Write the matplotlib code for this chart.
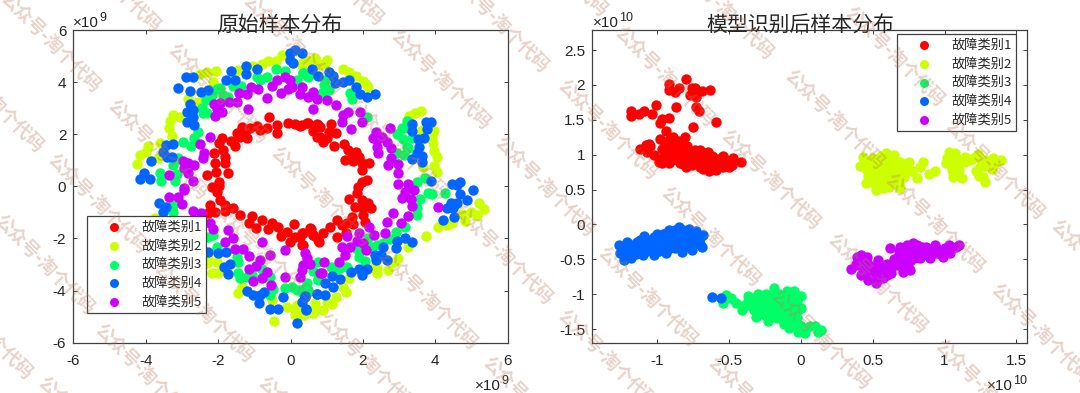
"""Recreate the fault-class scatter comparison (before and after model)."""

import numpy as np
import matplotlib

matplotlib.use("Agg")
import matplotlib.pyplot as plt

WIDTH, HEIGHT = 1080, 393
CJK = ["Noto Sans CJK SC", "DejaVu Sans"]
TEXT_COLOR = "#262626"
LINE_COLOR = "#404040"

CLASS_LABELS = ["故障类别1", "故障类别2", "故障类别3", "故障类别4", "故障类别5"]
CLASS_COLORS = ["#FF0000", "#CCFF00", "#00FF66", "#0066FF", "#CC00FF"]

ORIG_CLASS1 = [
    (-0.59, 2.66), (-1.35, 2.29), (-0.93, 2.31), (-1.12, 2.23), (-1.26, 2.10), (-1.49, 2.03),
    (-0.84, 2.16), (-0.66, 2.23), (-0.38, 2.35), (-0.06, 2.44), (0.12, 2.39), (0.26, 2.31),
    (0.46, 2.44), (-0.38, 2.03), (-1.63, 1.75), (-1.53, 1.56), (-1.40, 1.91), (-1.21, 1.84),
    (-1.90, 1.84), (-1.97, 1.65), (-2.11, 1.27), (-1.86, 1.39), (-1.81, 1.14), (-2.09, 0.88),
    (-1.81, 0.88), (-2.06, 0.56), (-1.74, 0.52), (-2.30, 0.43), (-1.97, 0.15), (-2.18, -0.01),
    (-1.97, 0.00), (0.72, 2.39), (0.72, 1.88), (0.81, 2.29), (0.31, 2.35), (0.47, 2.44),
    (0.77, 2.35), (1.11, 2.39), (0.63, 2.14), (0.81, 1.91), (1.07, 2.10), (1.26, 2.06),
    (1.00, 1.84), (0.89, 1.71), (1.20, 1.55), (1.48, 1.62), (1.60, 1.39), (1.81, 1.33),
    (1.69, 1.16), (1.51, 1.01), (1.74, 0.98), (1.90, 1.14), (1.97, 0.88), (2.17, 0.88),
    (1.97, 0.63), (2.10, 0.24), (1.97, 0.18), (1.87, -0.01), (1.83, -0.27), (1.62, -0.49),
    (1.97, -0.52), (2.15, -0.65), (1.78, -0.78), (2.01, -0.84), (2.21, -0.84), (1.69, -1.16),
    (2.01, -1.10), (2.06, -1.36), (1.55, -1.42), (1.74, -1.46), (1.29, -1.29), (1.41, -1.48),
    (1.09, -1.57), (0.91, -1.80), (1.29, -1.93), (1.53, -1.80), (0.56, -1.65), (0.63, -1.87),
    (0.35, -1.80), (0.80, -2.12), (0.31, -2.25), (0.26, -1.93), (-2.04, -0.20), (-1.95, -0.52),
    (-2.21, -0.72), (-1.81, -0.72), (-2.08, -0.97), (-2.27, -1.04), (-1.81, -0.93), (-1.58, -0.84),
    (-1.39, -1.10), (-1.07, -1.14), (-1.16, -1.42), (-0.94, -1.61), (-0.80, -1.29), (-0.52, -1.39),
    (-0.61, -1.65), (-0.34, -1.55), (-0.25, -1.91), (-0.11, -1.74), (0.11, -1.46), (-0.01, -2.12),
    (0.12, -1.93), (0.33, -1.80), (0.35, -2.25), (0.54, -1.61), (0.61, -1.87), (0.77, -2.06),
]
ORIG_CLASS2 = [
    (-4.25, 0.86), (-4.16, 1.20), (-3.93, 1.55), (-3.99, 1.33), (-3.60, 1.68), (-3.65, 1.07),
    (-3.28, 1.93), (-3.37, 2.25), (-3.24, 2.74), (-3.05, 2.67), (-3.33, 2.52), (-2.82, 3.34),
    (-2.55, 3.25), (-2.50, 4.31), (-2.32, 4.40), (-2.06, 4.42), (-2.13, 4.02), (-1.44, 4.46),
    (-1.03, 4.62), (-0.80, 4.69), (-0.61, 4.81), (-0.40, 4.82), (-0.24, 5.04), (0.35, 4.78),
    (0.49, 4.85), (0.68, 4.91), (0.31, 4.65), (0.68, 4.87), (0.95, 4.72), (1.02, 4.85),
    (0.81, 4.65), (1.46, 4.49), (1.62, 4.40), (1.80, 4.25), (2.01, 4.04), (2.15, 3.80),
    (2.08, 3.93), (3.26, 2.71), (3.44, 2.80), (3.60, 2.90), (3.97, 2.14), (3.90, 1.84),
    (3.93, 1.65), (3.97, 1.37), (4.04, 1.11), (3.96, 0.78), (4.06, 0.54), (3.62, 2.16),
    (3.67, 0.75), (5.21, -0.65), (5.35, -0.88), (5.14, -1.10), (4.98, -0.97), (4.75, -1.06),
    (4.82, -1.32), (4.45, -1.42), (4.31, -1.48), (4.08, -1.57), (3.73, -1.89), (3.25, -2.34),
    (2.98, -2.76), (2.87, -2.92), (2.70, -3.21), (2.38, -3.15), (2.30, -3.15), (2.38, -3.34),
    (1.62, -3.53), (1.46, -3.87), (1.52, -4.07), (1.27, -4.23), (1.14, -4.51), (1.00, -4.42),
    (0.89, -4.74), (0.68, -4.49), (0.61, -4.87), (0.35, -4.94), (0.68, -4.68), (-2.27, -2.76),
    (-2.31, -2.95), (-2.04, -2.89), (-2.18, -3.34), (-2.01, -3.34), (-1.35, -3.85), (-1.46, -4.11),
    (-0.52, -4.36), (-0.46, -5.17), (-0.11, -4.62), (0.12, -4.94), (0.19, -4.55), (0.36, -4.94),
    (0.61, -4.87), (0.12, -4.74), (-3.74, -1.23),
]
ORIG_CLASS3 = [
    (-3.60, 0.52), (-3.58, 0.22), (-3.19, 0.22), (-3.14, 0.47), (-3.24, 0.82), (-3.10, 1.07),
    (-2.98, 1.71), (-2.76, 1.55), (-2.67, 1.84), (-2.55, 2.07), (-2.45, 2.99), (-2.32, 2.80),
    (-2.43, 2.83), (-2.34, 3.31), (-2.18, 3.50), (-2.04, 3.72), (-1.86, 3.50), (-1.72, 3.44),
    (-1.95, 3.76), (-1.58, 3.85), (-1.38, 3.85), (-0.93, 4.21), (-0.84, 4.08), (-0.66, 4.18),
    (-0.41, 4.49), (-0.15, 4.44), (0.19, 4.10), (0.35, 4.34), (0.49, 4.18), (0.58, 4.31),
    (0.34, 4.34), (0.95, 4.08), (0.93, 3.89), (1.05, 3.70), (0.86, 3.57), (1.64, 3.59),
    (1.71, 3.34), (2.10, 2.67), (3.21, 2.52), (3.07, 2.23), (2.93, 2.01), (3.25, 2.23),
    (3.12, 1.80), (3.35, 1.84), (3.21, 1.52), (3.25, 1.46), (3.14, 1.20), (2.93, 1.29),
    (3.49, 0.18), (3.72, 0.31), (3.81, -0.27), (3.90, -0.29), (3.58, -0.50), (3.50, -0.84),
    (3.49, -1.10), (4.27, -0.27), (3.16, -1.57), (2.91, -1.77), (2.75, -2.03), (2.56, -2.16),
    (2.38, -2.25), (2.21, -2.31), (2.13, -1.99), (1.83, -2.42), (1.90, -2.70), (2.06, -2.85),
    (1.55, -3.11), (1.37, -3.15), (1.11, -3.08), (1.23, -3.21), (0.77, -2.89), (0.63, -3.24),
    (0.77, -3.57), (0.49, -4.04), (0.40, -3.92), (0.26, -3.98), (-3.24, -0.72), (-3.25, -0.97),
    (-2.13, -1.87), (-2.27, -1.93), (-2.04, -2.32), (-1.49, -2.70), (-1.44, -2.89), (-1.44, -3.34),
    (-1.39, -3.53), (-1.21, -3.49), (-1.07, -3.40), (-0.80, -3.18), (-0.58, -3.49), (-0.57, -4.17),
    (-0.47, -3.95), (-0.15, -3.91), (0.03, -3.85), (0.17, -3.98), (0.31, -4.04), (0.45, -3.72),
    (0.49, -3.98), (0.77, -3.59),
]
ORIG_CLASS4 = [
    (-4.16, 0.28), (-4.04, 0.50), (-3.88, 0.28), (-3.86, 0.98), (-3.51, 1.33), (-3.44, 1.59),
    (-3.24, 1.61), (-3.42, 1.14), (-3.28, 1.11), (-3.10, 3.76), (-2.90, 4.18), (-2.68, 4.18),
    (-2.79, 3.67), (-2.47, 3.63), (-2.27, 3.70), (-2.78, 3.16), (-2.87, 2.86), (-2.68, 2.93),
    (-2.87, 2.48), (-2.68, 2.65), (-2.67, 2.35), (-1.78, 4.10), (-1.53, 4.10), (-1.65, 4.44),
    (-1.24, 4.62), (-1.24, 4.31), (-0.93, 4.49), (-0.01, 4.85), (0.12, 5.23), (0.33, 5.10),
    (-0.01, 5.10), (0.08, 4.72), (0.60, 4.50), (0.77, 4.23), (1.05, 4.40), (1.23, 3.98),
    (1.18, 4.23), (1.46, 4.02), (1.62, 4.08), (1.80, 3.82), (1.92, 3.53), (2.10, 3.44),
    (2.33, 3.53), (3.37, 2.39), (3.37, 2.14), (3.74, 2.46), (3.87, 2.46), (3.76, 2.19),
    (3.69, 1.87), (3.53, 1.80), (3.56, 1.52), (3.49, 1.27), (3.62, 1.16), (3.35, 1.05),
    (3.62, 0.95), (3.87, 0.22), (4.47, 0.09), (4.68, 0.17), (5.03, -0.14), (4.61, 0.05),
    (4.87, -0.52), (4.68, -0.29), (4.59, -0.65), (4.42, -0.65), (4.31, -0.84), (4.50, -0.84),
    (4.52, -1.16), (4.22, -1.29), (3.37, -2.15), (3.16, -1.97), (2.93, -2.08), (2.91, -2.38),
    (2.56, -2.34), (2.33, -2.63), (2.36, -2.83), (2.50, -2.63), (2.66, -2.83), (2.10, -3.18),
    (1.90, -3.18), (1.97, -3.40), (1.66, -3.30), (1.37, -3.57), (1.16, -3.43), (1.18, -3.85),
    (0.95, -3.70), (0.95, -4.17), (0.72, -4.13), (0.40, -4.23), (0.43, -4.74), (-3.63, -0.65),
    (-3.44, -0.78), (-3.51, -0.97), (-2.27, -2.51), (-1.99, -2.57), (-1.79, -2.51), (-1.85, -3.08),
    (-1.67, -2.98), (-1.74, -3.36), (-1.21, -4.02), (-1.03, -4.17), (-0.84, -4.17), (-0.72, -4.04),
    (-0.86, -4.47), (-0.57, -4.71), (-0.35, -4.72), (-0.22, -4.26), (0.31, -4.42), (0.40, -4.21),
    (0.43, -4.72), (0.19, -5.26), (0.72, -4.13),
]
ORIG_CLASS5 = [
    (-3.37, 0.43), (-2.96, 0.98), (-2.82, 0.91), (-2.66, 0.82), (-2.94, 0.69), (-2.82, 0.50),
    (-2.70, 0.20), (-2.94, -0.08), (-2.50, 1.62), (-2.22, 1.88), (-2.38, 1.27), (-2.41, 1.07),
    (-2.11, 3.16), (-1.95, 3.21), (-2.04, 2.95), (-1.90, 2.86), (-2.09, 2.70), (-1.70, 3.22),
    (-1.49, 3.25), (-1.18, 2.97), (-1.42, 3.57), (-1.21, 3.54), (-1.09, 3.82), (-0.89, 3.72),
    (-0.64, 3.40), (-0.52, 3.86), (-0.38, 4.08), (-0.15, 4.21), (-0.01, 4.08), (-0.25, 3.59),
    (-0.08, 3.72), (0.05, 3.80), (0.31, 3.80), (0.26, 3.53), (0.49, 3.44), (0.63, 3.63),
    (0.72, 3.34), (0.61, 2.97), (1.00, 3.31), (1.26, 3.12), (1.60, 2.86), (1.44, 2.74),
    (1.41, 2.46), (1.92, 2.86), (1.97, 2.48), (1.67, 2.20), (2.35, 2.10), (2.75, 2.23),
    (2.27, 1.87), (2.52, 1.91), (2.67, 1.71), (2.40, 1.78), (2.38, 1.52), (2.43, 1.27),
    (2.79, 1.46), (2.77, 1.07), (2.68, 0.82), (2.98, 0.86), (2.98, 0.50), (2.98, 0.09),
    (3.24, 0.09), (3.16, -0.20), (3.41, -0.14), (3.33, -0.50), (3.37, -0.74), (3.07, -0.46),
    (3.24, -1.12), (2.82, -1.04), (3.06, -1.42), (2.67, -1.36), (2.17, -1.57), (1.90, -1.78),
    (2.31, -1.87), (2.61, -1.80), (1.57, -1.91), (1.83, -2.10), (2.00, -2.19), (2.08, -2.44),
    (1.41, -2.31), (1.64, -2.31), (1.51, -2.63), (1.35, -2.89), (0.92, -2.89), (0.86, -3.34),
    (4.08, -0.78), (-3.37, -0.40), (-3.12, -0.40), (-3.00, -0.68), (-2.94, -0.14), (-2.70, -0.93),
    (-2.48, -1.04), (-2.21, -1.42), (-2.13, -1.65), (-1.74, -1.67), (-1.81, -2.12), (-1.58, -2.00),
    (-1.53, -2.40), (-1.30, -2.42), (-1.16, -2.67), (-0.84, -2.83), (-0.94, -3.06), (-1.14, -3.18),
    (-0.80, -2.12), (-0.58, -2.63), (-0.15, -2.44), (-1.03, -3.62), (-0.80, -3.53), (-0.64, -3.27),
    (-0.55, -3.79), (-0.15, -3.49), (0.26, -3.47), (0.31, -3.21), (0.35, -3.02), (0.40, -2.57),
    (0.45, -2.76), (0.54, -2.98), (0.81, -3.34),
]

MODEL_CLASS1 = [
    (-0.80, 2.08), (-0.92, 2.01), (-0.92, 1.93), (-0.88, 1.90), (-0.85, 1.96), (-0.76, 1.95),
    (-0.74, 1.95), (-0.77, 1.86), (-0.73, 1.83), (-0.69, 1.92), (-0.63, 1.93), (-0.73, 1.69),
    (-0.71, 1.62), (-0.87, 1.68), (-1.01, 1.71), (-1.18, 1.62), (-1.18, 1.55), (-1.13, 1.59),
    (-1.09, 1.63), (-1.04, 1.58), (-0.97, 1.51), (-0.92, 1.52), (-0.98, 1.45), (-0.59, 1.47),
    (-0.75, 1.40), (-0.94, 1.34), (-0.81, 1.25), (-0.98, 1.23), (-0.92, 1.21), (-0.89, 1.26),
    (-1.12, 1.08), (-1.08, 1.14), (-1.06, 1.16), (-1.05, 1.12), (-1.07, 1.04), (-0.93, 1.12),
    (-0.87, 1.14), (-0.79, 1.12), (-1.02, 1.00), (-0.99, 0.89), (-0.96, 0.97), (-0.92, 0.88),
    (-0.91, 1.00), (-0.88, 1.04), (-0.83, 1.09), (-0.84, 0.88), (-0.83, 0.97), (-0.80, 0.92),
    (-0.76, 0.85), (-0.74, 1.07), (-0.73, 0.95), (-0.70, 0.83), (-0.68, 0.97), (-0.65, 1.04),
    (-0.65, 0.88), (-0.64, 0.77), (-0.61, 0.97), (-0.59, 0.78), (-0.58, 0.92), (-0.54, 0.98),
    (-0.54, 0.83), (-0.51, 0.88), (-0.47, 0.96), (-0.48, 0.85), (-0.42, 0.89), (-0.77, 1.02),
    (-0.70, 1.07), (-0.87, 0.95), (-0.80, 0.83), (-0.66, 0.97), (-0.74, 0.97), (-0.62, 0.85),
    (-0.68, 0.80), (-0.81, 1.00), (-0.90, 1.09), (-0.97, 0.88), (-0.95, 1.05), (-0.93, 0.95),
    (-0.90, 0.92), (-0.86, 1.02), (-0.85, 0.92), (-0.82, 0.86), (-0.78, 0.96), (-0.78, 0.88),
    (-0.75, 1.00), (-0.75, 0.90), (-0.72, 0.86), (-0.71, 1.00), (-0.70, 0.92), (-0.67, 0.88),
    (-0.67, 1.02), (-0.64, 0.92), (-0.62, 0.98), (-0.62, 0.80), (-0.60, 0.88), (-0.57, 0.82),
    (-0.56, 0.95), (-0.52, 0.93), (-0.50, 0.82), (-0.95, 1.15), (-0.90, 1.18), (-0.85, 1.20),
    (-0.78, 1.05), (-0.97, 1.08),
]
MODEL_CLASS2 = [
    (0.41, 0.84), (0.43, 0.97), (0.48, 0.92), (0.59, 1.02), (0.65, 1.00), (0.56, 0.88),
    (0.46, 0.78), (0.45, 0.59), (0.52, 0.49), (0.50, 0.66), (0.57, 0.68), (0.62, 0.78),
    (0.69, 0.90), (0.75, 0.90), (0.74, 0.80), (0.70, 0.73), (0.65, 0.61), (0.69, 0.52),
    (0.61, 0.54), (0.57, 0.52), (0.81, 0.66), (0.77, 0.76), (0.85, 0.89), (0.83, 0.83),
    (0.89, 0.73), (0.93, 0.77), (1.03, 1.04), (1.07, 1.02), (1.01, 0.88), (1.06, 0.88),
    (1.11, 0.90), (1.14, 0.97), (1.21, 0.97), (1.23, 1.01), (1.29, 0.92), (1.34, 0.96),
    (1.39, 0.92), (1.33, 0.80), (1.25, 0.83), (1.22, 0.76), (1.28, 0.61), (1.06, 0.68),
    (1.12, 0.66), (1.05, 0.78), (1.10, 0.78), (0.53, 0.78), (0.63, 0.90), (0.48, 0.61),
    (0.65, 0.73), (0.55, 0.59), (0.72, 0.68), (1.17, 0.92), (0.44, 0.84), (0.46, 0.90),
    (0.47, 0.70), (0.50, 0.82), (0.50, 0.95), (0.52, 0.58), (0.53, 0.90), (0.54, 0.70),
    (0.56, 0.98), (0.58, 0.80), (0.59, 0.60), (0.60, 0.90), (0.61, 0.70), (0.64, 0.82),
    (0.66, 0.66), (0.67, 0.86), (0.68, 0.60), (0.70, 0.82), (0.72, 0.86), (1.02, 0.96),
    (1.09, 0.84), (1.07, 0.74), (1.14, 0.90), (1.19, 0.94), (1.26, 0.90), (1.28, 0.84),
    (1.31, 0.88), (1.24, 0.70), (1.27, 0.68), (1.36, 0.90), (1.09, 0.94),
]
MODEL_CLASS3 = [
    (-0.52, -1.01), (-0.54, -1.13), (-0.49, -1.06), (-0.45, -1.13), (-0.41, -1.22), (-0.37, -1.03),
    (-0.36, -1.15), (-0.31, -1.32), (-0.33, -1.22), (-0.26, -1.01), (-0.26, -1.15), (-0.29, -1.27),
    (-0.23, -1.38), (-0.19, -0.91), (-0.19, -1.08), (-0.19, -1.25), (-0.17, -1.34), (-0.13, -1.03),
    (-0.10, -0.96), (-0.05, -0.96), (0.00, -1.03), (-0.13, -1.18), (-0.08, -1.11), (0.00, -1.19),
    (-0.10, -1.30), (-0.03, -1.34), (-0.12, -1.42), (-0.08, -1.49), (-0.02, -1.54), (0.03, -1.56),
    (0.06, -1.46), (0.10, -1.46), (0.12, -1.54), (0.14, -1.51), (-0.30, -1.08), (-0.24, -1.15),
    (-0.33, -1.05), (-0.21, -1.22), (-0.16, -1.12), (-0.28, -1.20), (-0.06, -1.08), (-0.04, -1.25),
    (-0.14, -1.30), (-0.06, -1.38), (-0.25, -1.30), (-0.22, -1.05), (-0.10, -1.20), (0.00, -1.45),
    (-0.37, -1.10), (-0.34, -1.12), (-0.33, -1.18), (-0.30, -1.00), (-0.29, -1.14), (-0.27, -1.08),
    (-0.26, -1.24), (-0.24, -1.00), (-0.23, -1.22), (-0.21, -1.30), (-0.20, -1.15), (-0.18, -1.00),
    (-0.17, -1.15), (-0.15, -1.00), (-0.15, -1.22), (-0.13, -1.10), (-0.12, -1.24), (-0.11, -1.36),
    (-0.09, -1.05), (-0.08, -1.28), (-0.07, -1.18), (-0.05, -1.30), (-0.05, -1.42), (-0.03, -1.10),
    (-0.02, -1.22), (-0.02, -1.45), (-0.39, -1.15), (-0.31, -1.22),
]
MODEL_CLASS4 = [
    (-0.62, -1.04), (-0.56, -1.05), (-1.27, -0.29), (-1.21, -0.25), (-1.26, -0.41), (-1.23, -0.51),
    (-1.18, -0.48), (-1.14, -0.25), (-1.17, -0.37), (-1.10, -0.44), (-1.09, -0.17), (-1.05, -0.22),
    (-1.02, -0.44), (-1.00, -0.13), (-1.03, -0.32), (-0.94, -0.41), (-0.92, -0.08), (-0.96, -0.22),
    (-0.85, -0.04), (-0.88, -0.27), (-0.83, -0.39), (-0.78, -0.07), (-0.82, -0.17), (-0.76, -0.37),
    (-0.73, -0.10), (-0.75, -0.22), (-0.69, -0.32), (-0.68, -0.15), (-1.20, -0.32), (-1.08, -0.32),
    (-0.98, -0.32), (-0.89, -0.13), (-0.85, -0.17), (-0.82, -0.29), (-1.12, -0.34), (-1.24, -0.36),
    (-1.22, -0.30), (-1.22, -0.42), (-1.18, -0.30), (-1.18, -0.40), (-1.15, -0.33), (-1.15, -0.42),
    (-1.12, -0.22), (-1.12, -0.28), (-1.12, -0.40), (-1.08, -0.24), (-1.08, -0.38), (-1.05, -0.28),
    (-1.05, -0.36), (-1.02, -0.18), (-1.02, -0.26), (-1.02, -0.38), (-0.99, -0.18), (-0.99, -0.26),
    (-0.99, -0.38), (-0.96, -0.14), (-0.96, -0.30), (-0.94, -0.12), (-0.94, -0.18), (-0.94, -0.28),
    (-0.94, -0.35), (-0.91, -0.14), (-0.91, -0.24), (-0.91, -0.34), (-0.88, -0.08), (-0.88, -0.20),
    (-0.88, -0.34), (-0.85, -0.10), (-0.85, -0.24), (-0.85, -0.32), (-0.82, -0.08), (-0.82, -0.22),
    (-0.82, -0.34), (-0.79, -0.12), (-0.79, -0.20), (-0.79, -0.30), (-0.76, -0.12), (-0.76, -0.18),
    (-0.76, -0.28), (-0.72, -0.16), (-0.72, -0.26), (-0.70, -0.20), (-0.70, -0.28),
]
MODEL_CLASS5 = [
    (0.35, -0.64), (0.39, -0.46), (0.42, -0.44), (0.46, -0.46), (0.40, -0.58), (0.45, -0.58),
    (0.42, -0.72), (0.47, -0.80), (0.52, -0.84), (0.54, -0.51), (0.50, -0.63), (0.57, -0.77),
    (0.63, -0.70), (0.60, -0.56), (0.63, -0.58), (0.71, -0.68), (0.76, -0.65), (0.76, -0.53),
    (0.62, -0.34), (0.69, -0.32), (0.68, -0.44), (0.74, -0.29), (0.78, -0.27), (0.74, -0.41),
    (0.81, -0.39), (0.84, -0.32), (0.87, -0.32), (0.83, -0.48), (0.90, -0.48), (0.93, -0.29),
    (0.93, -0.41), (0.99, -0.46), (1.00, -0.34), (1.05, -0.32), (1.04, -0.41), (1.08, -0.32),
    (1.10, -0.30), (0.55, -0.70), (0.48, -0.68), (0.58, -0.65), (0.67, -0.58), (0.71, -0.49),
    (0.86, -0.41), (0.38, -0.56), (0.42, -0.52), (0.44, -0.66), (0.46, -0.54), (0.48, -0.74),
    (0.50, -0.72), (0.52, -0.58), (0.54, -0.78), (0.55, -0.60), (0.57, -0.68), (0.60, -0.72),
    (0.60, -0.62), (0.62, -0.66), (0.65, -0.50), (0.68, -0.52), (0.70, -0.60), (0.73, -0.56),
    (0.73, -0.36), (0.76, -0.42), (0.78, -0.34), (0.79, -0.48), (0.81, -0.30), (0.85, -0.38),
    (0.88, -0.44), (0.90, -0.36), (0.96, -0.36), (0.97, -0.42), (1.02, -0.38), (1.03, -0.30),
    (0.68, -0.38), (0.72, -0.44), (0.80, -0.43),
]

ORIG_TICKS = [-6, -4, -2, 0, 2, 4, 6]
ORIG_TICK_LABELS = ["-6", "-4", "-2", "0", "2", "4", "6"]
MODEL_XTICKS = [-1, -0.5, 0, 0.5, 1, 1.5]
MODEL_XTICK_LABELS = ["-1", "-0.5", "0", "0.5", "1", "1.5"]
MODEL_YTICKS = [-1.5, -1, -0.5, 0, 0.5, 1, 1.5, 2, 2.5]
MODEL_YTICK_LABELS = ["-1.5", "-1", "-0.5", "0", "0.5", "1", "1.5", "2", "2.5"]

WATERMARK = "公众号-淘个代码"
# upper-left corner of each stamp, in picture pixels
WATERMARK_STARTS = [
    (-65, 283), (40, 380),
    (-3, 218), (97, 327),
    (-54, 56), (50, 157), (156, 266), (260, 380),
    (3, -4), (110, 103), (216, 207), (320, 317),
    (63, -64), (170, 47), (273, 150), (380, 253), (485, 360),
    (245, -2), (350, 103), (455, 208), (560, 313),
    (286, -71), (393, 33), (497, 140), (600, 250), (710, 360),
    (451, -24), (560, 83), (663, 190), (773, 293),
    (510, -80), (617, 30), (723, 133), (830, 237), (937, 343),
    (676, -37), (787, 73), (887, 177), (993, 287),
    (847, 10), (947, 123), (1053, 223),
]


def px_box(left, top, right, bottom):
    return [left / WIDTH, 1 - bottom / HEIGHT, (right - left) / WIDTH, (bottom - top) / HEIGHT]


def draw_panel(ax, classes, title, title_x, legend_xy):
    for points, color, label in zip(classes, CLASS_COLORS, CLASS_LABELS):
        values = np.array(points)
        ax.scatter(values[:, 0], values[:, 1], s=56, c=color, linewidths=0, label=label, clip_on=True)
    ax.set_title(title, family=CJK, fontsize=15, color=TEXT_COLOR, pad=-1, x=title_x)
    ax.tick_params(direction="in", length=3, width=0.7, top=True, right=True, color=LINE_COLOR,
                   labelsize=11, labelcolor=TEXT_COLOR, pad=5)
    ax.tick_params(axis="x", pad=8)
    for label in ax.get_xticklabels() + ax.get_yticklabels():
        label.set_family("Liberation Sans")
    for spine in ax.spines.values():
        spine.set_color(LINE_COLOR)
        spine.set_linewidth(0.9)
    legend = ax.legend(
        loc="upper left",
        bbox_to_anchor=(legend_xy[0] / WIDTH, 1 - legend_xy[1] / HEIGHT),
        bbox_transform=ax.figure.transFigure,
        borderaxespad=0,
        prop={"family": CJK, "size": 9.5},
        frameon=True,
        fancybox=False,
        framealpha=1,
        edgecolor=LINE_COLOR,
        labelspacing=0.43,
        handlelength=3.4,
        handletextpad=0.36,
        borderpad=0.36,
        scatterpoints=1,
    )
    legend.get_frame().set_linewidth(0.9)
    for text in legend.get_texts():
        text.set_color(TEXT_COLOR)
    for handle in legend.legend_handles:
        handle.set_sizes([42])


def draw_exponent(fig, x, y, power):
    fig.text(x / WIDTH, 1 - y / HEIGHT, "×10", family="Liberation Sans", fontsize=11,
             color=TEXT_COLOR, va="baseline")
    fig.text((x + 26) / WIDTH, 1 - (y - 6) / HEIGHT, power, family="Liberation Sans", fontsize=9,
             color=TEXT_COLOR, va="baseline")


def main():
    fig = plt.figure(figsize=(WIDTH / 100, HEIGHT / 100), dpi=100, facecolor="white")

    left = fig.add_axes(px_box(73.3, 30, 507.7, 342.7))
    left.set_xlim(-6, 6)
    left.set_ylim(-6, 6)
    left.set_xticks(ORIG_TICKS, ORIG_TICK_LABELS)
    left.set_yticks(ORIG_TICKS, ORIG_TICK_LABELS)
    draw_panel(left, [ORIG_CLASS1, ORIG_CLASS2, ORIG_CLASS3, ORIG_CLASS4, ORIG_CLASS5],
               "原始样本分布", 0.475, (86.7, 216))

    right = fig.add_axes(px_box(592, 30, 1026.7, 343))
    right.set_xlim(-1.455, 1.572)
    right.set_ylim(-1.698, 2.787)
    right.set_xticks(MODEL_XTICKS, MODEL_XTICK_LABELS)
    right.set_yticks(MODEL_YTICKS, MODEL_YTICK_LABELS)
    draw_panel(right, [MODEL_CLASS1, MODEL_CLASS2, MODEL_CLASS3, MODEL_CLASS4, MODEL_CLASS5],
               "模型识别后样本分布", 0.48, (896.7, 34))

    draw_exponent(fig, 73, 27, "9")
    draw_exponent(fig, 475, 390, "9")
    draw_exponent(fig, 593, 27, "10")
    draw_exponent(fig, 987, 390, "10")

    for x, y in WATERMARK_STARTS:
        fig.text((x + 48) / WIDTH, 1 - (y + 47) / HEIGHT, WATERMARK, family=CJK, fontsize=13,
                 fontweight="bold", color="#b87a5a", alpha=0.33, rotation=-45,
                 rotation_mode="anchor", ha="center", va="center")

    fig.savefig("out.png", dpi=100)
    plt.close(fig)


if __name__ == "__main__":
    main()
